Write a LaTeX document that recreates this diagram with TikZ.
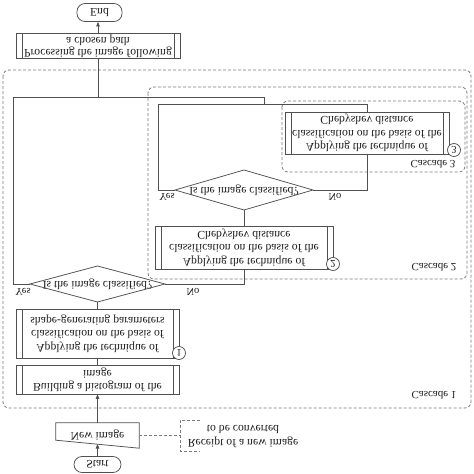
\documentclass[tikz,border=0pt]{standalone}
\usepackage{fontspec}
\setmainfont{Liberation Serif}
\usetikzlibrary{arrows.meta}
\definecolor{lc}{HTML}{505050}
\definecolor{dc}{HTML}{7A7A7A}
\definecolor{tc}{HTML}{1E1E1E}
\newcommand{\fl}[1]{\scalebox{1}[-1]{#1}}
\newcommand{\flp}[2][1]{\scalebox{1}[-1]{\renewcommand{\arraystretch}{#1}\begin{tabular}{@{}c@{}}#2\end{tabular}}}
\begin{document}
\begin{tikzpicture}[x=1pt,y=-1pt,
  every node/.style={text=tc, font=\fontsize{11.7}{13.5}\selectfont},
  conn/.style={draw=lc, line width=0.75pt},
  arr/.style={conn, -{Triangle[length=4.5pt,width=3.5pt]}},
  cascade/.style={draw=dc, line width=0.8pt, dash pattern=on 3pt off 2pt, rounded corners=6pt},
  note/.style={draw=dc, line width=0.8pt, dash pattern=on 3pt off 2pt},
  pbox/.style={draw=lc, line width=0.75pt, fill=white, inner sep=0pt,
    path picture={
      \draw[lc, line width=0.75pt] ([xshift=6pt]path picture bounding box.north west) -- ([xshift=6pt]path picture bounding box.south west);
      \draw[lc, line width=0.75pt] ([xshift=-6pt]path picture bounding box.north east) -- ([xshift=-6pt]path picture bounding box.south east);}},
  term/.style={draw=lc, line width=0.75pt, fill=white, rounded corners=8pt, inner sep=0pt},
  numc/.style={circle, draw=lc, line width=0.75pt, fill=white, inner sep=0pt, minimum size=13pt, font=\fontsize{10.5}{12}\selectfont},
  lab/.style={inner sep=0pt, font=\fontsize{10.5}{12}\selectfont},
  clab/.style={inner sep=0pt, font=\fontsize{11}{13}\selectfont},
  ]
\useasboundingbox (0,0) rectangle (474,474);
\fill[white] (0,0) rectangle (474,474);

% cascades
\draw[cascade] (3,70) rectangle (471,408);
\draw[cascade] (148,87) rectangle (467,279);
\draw[cascade] (282,101) rectangle (465,172);
\node[clab] (cas1) at (434,395) {\fl{Cascade 1}};
\node[clab] (cas2) at (434,267) {\fl{Cascade 2}};
\node[clab] (cas3) at (433,164) {\fl{Cascade 3}};

% terminators
\node[term, minimum width=45pt, minimum height=18pt] (end) at (99.5,12.5) {\fl{End}};
\node[term, minimum width=47pt, minimum height=16pt] (start) at (97.5,464.5) {\fl{Start}};

% process boxes
\node[pbox, minimum width=164pt, minimum height=24pt] (proc) at (98,46) {\flp[0.9]{Processing the image following\\a chosen path}};
\node[pbox, minimum width=164pt, minimum height=42pt] (box3) at (367,133) {\flp{Applying the technique of\\classification on the basis of the\\Chebyshev distance}};
\node[pbox, minimum width=178pt, minimum height=43pt] (box2) at (244,247.5) {\flp{Applying the technique of\\classification on the basis of the\\Chebyshev distance}};
\node[pbox, minimum width=163pt, minimum height=49pt] (box1) at (97.5,333.5) {\flp{Applying the technique of\\classification on the basis of\\shape-generating parameters}};
\node[pbox, minimum width=163pt, minimum height=29pt] (box0) at (97.5,379.5) {\flp{Building a histogram of the\\image}};

% new image (manual input)
\node[inner sep=0pt, minimum width=83pt, minimum height=25pt] (newimg) at (97.5,435.5) {\fl{New image}};
\draw[conn, fill=white] (newimg.north west) -- (newimg.north east) -- (newimg.south east) -- ([yshift=8pt]newimg.south west) -- cycle;
\node[inner sep=0pt] at (newimg) {\fl{New image}};
\coordinate (nib) at (97.5,444);

% decisions
\node[inner sep=0pt] (d1) at (97.5,284) {\fl{Is the image classified?}};
\coordinate (d1w) at (30,284);
\coordinate (d1e) at (165,284);
\coordinate (d1n) at (97.5,266);
\coordinate (d1s) at (97.5,302);
\node[inner sep=0pt] (d2) at (244,190) {\fl{Is the image classified?}};
\coordinate (d2w) at (175,190);
\coordinate (d2e) at (313,190);
\coordinate (d2n) at (244,170);
\coordinate (d2s) at (244,210);
\draw[conn] (d1w) -- (d1n) -- (d1e) -- (d1s) -- cycle;
\draw[conn] (d2w) -- (d2n) -- (d2e) -- (d2s) -- cycle;

\node[lab] (y1) at (23,292) {\fl{Yes}};
\node[lab] (n1) at (193,292) {\fl{No}};
\node[lab] (y2) at (167,197) {\fl{Yes}};
\node[lab] (n2) at (335,197) {\fl{No}};

% junctions
\coordinate (top1) at (264,97);
\coordinate (top2) at (264,104);

% connectors
\draw[arr] (start.north) -- (nib);
\draw[arr] (newimg.north) -- (box0.south);
\draw[conn] (box0.north) -- (box1.south);
\draw[conn] (box1.north) -- (d1s);
\draw[conn] (d1w) -| (13,97) -- (top1) -- (top2);
\draw[conn] (proc.south) -- (proc.south |- top1);
\draw[arr] (proc.north) -- (proc.north |- end.south);
\draw[conn] (d1e) -| (box2.south);
\draw[conn] (box2.north) -- (d2s);
\draw[conn] (d2w) -| (158,104) -- (box3.north |- top2) -- (box3.north);
\draw[conn] (d2e) -| (box3.south);

% number circles
\node[numc] (c1) at (179,353) {\fl{1}};
\node[numc] (c2) at (333,264) {\fl{2}};
\node[numc] (c3) at (454,150) {\fl{3}};

% annotation
\node[inner sep=0pt] (rec) at (243,435) {\flp[1.04]{Receipt of a new image\\to be converted}};
\coordinate (brk) at (180,435.5);
\draw[note] (newimg.east) -- (brk);
\draw[note] (200,420) -- (180,420) -- (180,451) -- (200,451);
\end{tikzpicture}
\end{document}
